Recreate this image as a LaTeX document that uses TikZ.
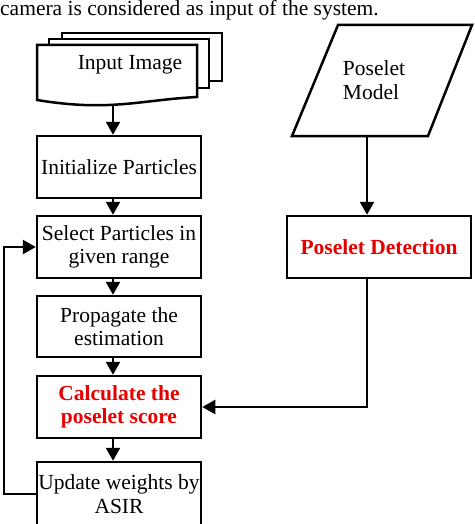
\documentclass[tikz,border=0pt]{standalone}
\usepackage{fontspec}
\setmainfont{Liberation Serif}
\usepackage{xcolor}
\usetikzlibrary{arrows.meta,positioning,calc}
\definecolor{hlred}{RGB}{230,0,0}
\newcommand{\flowfont}{\fontsize{21.5}{23.5}\selectfont}

\begin{document}
\begin{tikzpicture}[x=1pt,y=-1pt,font=\flowfont,
    box/.style={draw, line width=2.5pt, minimum width=164pt, minimum height=62pt, inner sep=0pt, align=center},
    arr/.style={line width=2.5pt, -{Triangle[length=13pt,width=14pt]}}]
    \useasboundingbox (0,0) rectangle (474,524);

    % Caption
    \node[anchor=base west, inner sep=0pt] (cap) at (0,16) {camera is considered as input of the system.};

    % Input image (document stack)
    \draw[line width=2.5pt, fill=white] (62,33) rectangle (222,81);
    \draw[line width=2.5pt, fill=white] (49,39) rectangle (209,88);
    \draw[line width=2.5pt, fill=white] (37,45) -- (197,45) -- (197,97) .. controls (140,100) and (110,112) .. (37,100) -- cycle;
    \node (input) at (130,65) {Input Image};
    \coordinate (inbot) at (113,104);

    % Particle filter steps
    \node[box] (init) at (119,167) {Initialize Particles};
    \node[box] (sel) at (119,247) {Select Particles in\\given range};
    \node[box, minimum height=61pt] (prop) at (119,326.5) {Propagate the\\estimation};
    \node[box, text=hlred, font=\flowfont\bfseries] (calc) at (119,407) {Calculate the\\poselet score};
    \node[box, minimum height=64pt] (upd) at (119,494) {Update weights by\\ASIR};

    % Poselet model
    \draw[line width=2.5pt] (338,25) -- (472,25) -- (428,136) -- (292,136) -- cycle;
    \node[align=left, inner sep=0pt] (model) at (374,80) {Poselet\\Model};
    \coordinate (modbot) at (367,136);
    \node[box, minimum width=184pt, text=hlred, font=\flowfont\bfseries] (det) at (379,247) {Poselet Detection};

    % Arrows
    \draw[arr] (inbot) -- ([xshift=-6pt]init.north);
    \draw[arr] ([xshift=-6pt]init.south) -- ([xshift=-6pt]sel.north);
    \draw[arr] ([xshift=-6pt]sel.south) -- ([xshift=-6pt]prop.north);
    \draw[arr] ([xshift=-6pt]prop.south) -- ([xshift=-6pt]calc.north);
    \draw[arr] ([xshift=-6pt]calc.south) -- ([xshift=-6pt]upd.north);
    \draw[arr] (modbot) -- ([xshift=-12pt]det.north);
    \draw[arr] ([xshift=-12pt]det.south) |- (calc.east);
    \draw[arr] (upd.west) -- ++(-32,0) |- (sel.west);
\end{tikzpicture}
\end{document}
